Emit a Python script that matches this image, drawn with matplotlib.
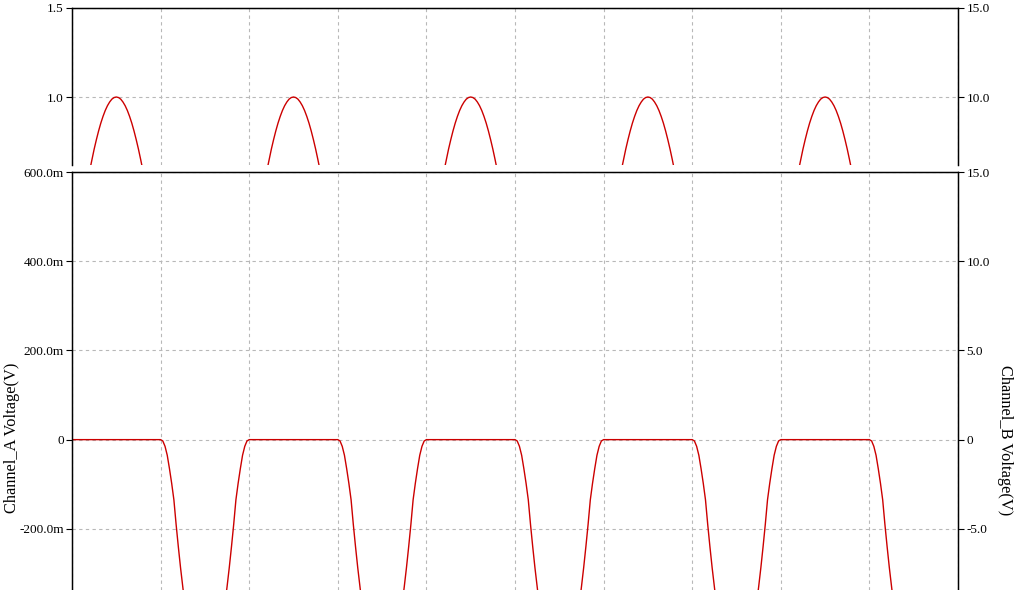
import numpy as np
import matplotlib
matplotlib.use("Agg")
import matplotlib.pyplot as plt

# one period of each trace (time in grid divisions)
cycle_t = [round(0.025 * i, 3) for i in range(80)]
top_cycle = [0.0, 0.079, 0.156, 0.233, 0.309, 0.383, 0.454, 0.523, 0.588, 0.649,
             0.707, 0.760, 0.809, 0.853, 0.891, 0.924, 0.951, 0.972, 0.988, 0.997,
             1.0, 0.997, 0.988, 0.972, 0.951, 0.924, 0.891, 0.853, 0.809, 0.760,
             0.707, 0.649, 0.588, 0.523, 0.454, 0.383, 0.309, 0.233, 0.156, 0.079,
             0.0, -0.079, -0.156, -0.233, -0.309, -0.383, -0.454, -0.523, -0.588, -0.649,
             -0.707, -0.760, -0.809, -0.853, -0.891, -0.924, -0.951, -0.972, -0.988, -0.997,
             -1.0, -0.997, -0.988, -0.972, -0.951, -0.924, -0.891, -0.853, -0.809, -0.760,
             -0.707, -0.649, -0.588, -0.523, -0.454, -0.383, -0.309, -0.233, -0.156, -0.079]
bottom_cycle = [0.0, 0.0, 0.0, 0.0, 0.0, 0.0, 0.0, 0.0, 0.0, 0.0,
                0.0, 0.0, 0.0, 0.0, 0.0, 0.0, 0.0, 0.0, 0.0, 0.0,
                0.0, 0.0, 0.0, 0.0, 0.0, 0.0, 0.0, 0.0, 0.0, 0.0,
                0.0, 0.0, 0.0, 0.0, 0.0, 0.0, 0.0, 0.0, 0.0, 0.0,
                0.0, -0.003, -0.015, -0.035, -0.065, -0.098, -0.135, -0.19, -0.24, -0.287,
                -0.33, -0.37, -0.405, -0.44, -0.47, -0.495, -0.515, -0.53, -0.54, -0.548,
                -0.55, -0.548, -0.54, -0.53, -0.515, -0.495, -0.47, -0.44, -0.405, -0.37,
                -0.33, -0.287, -0.24, -0.19, -0.135, -0.098, -0.065, -0.035, -0.015, -0.003]
n_cycles = 5
period = 2.0
bottom_end = 9.5  # last dip runs off the bottom, no return visible

top_ticks = [1.0, 1.5]
top_labels = ["1.0", "1.5"]
top_right_labels = ["10.0", "15.0"]
bot_ticks = [-0.2, 0.0, 0.2, 0.4, 0.6]
bot_labels = ["-200.0m", "0", "200.0m", "400.0m", "600.0m"]
bot_right_labels = ["-5.0", "0", "5.0", "10.0", "15.0"]

t = np.concatenate([np.array(cycle_t) + k * period for k in range(n_cycles)])
top_v = np.concatenate([top_cycle] * n_cycles)
bot_v = np.concatenate([bottom_cycle] * n_cycles)
keep = t <= bottom_end

plt.rcParams['font.family'] = ['Liberation Serif', 'DejaVu Serif']
plt.rcParams['font.size'] = 9.5

W, H = 1014, 590
fig = plt.figure(figsize=(W / 100, H / 100), dpi=100)
left = 72 / W
width = (958 - 72) / W

ax_top = fig.add_axes([left, (H - 165) / H, width, (165 - 8) / H])
ax_bot = fig.add_axes([left, 0.0, width, (H - 172) / H])

line_color = '#cc0000'
grid_kw = dict(color='#b8b8b8', linestyle=(0, (3, 3)), linewidth=0.8)

ax_top.plot(t, top_v, color=line_color, linewidth=1.0)
ax_top.set_ylim(0.618, 1.5)
ax_bot.plot(t[keep], bot_v[keep], color=line_color, linewidth=1.0)
ax_bot.set_ylim(-0.3371, 0.6)

for ax, ticks, labels, rlabels, k in [(ax_top, top_ticks, top_labels, top_right_labels, 10),
                                      (ax_bot, bot_ticks, bot_labels, bot_right_labels, 25)]:
    ax.set_xlim(0, 10)
    ax.set_xticks(np.arange(0, 11, 1))
    ax.tick_params(axis='x', length=0, labelbottom=False)
    ax.set_yticks(ticks)
    ax.set_yticklabels(labels)
    ax.tick_params(axis='y', direction='out', length=4, width=0.8, pad=2)
    ax.grid(True, **grid_kw)
    ax.spines['bottom'].set_visible(False)
    for s in ['left', 'right', 'top']:
        ax.spines[s].set_linewidth(1.0)
    ylo, yhi = ax.get_ylim()
    # right axis is the same grid scaled for Channel_B
    axr = ax.twinx()
    axr.set_ylim(ylo * k, yhi * k)
    axr.set_yticks([v * k for v in ticks])
    axr.set_yticklabels(rlabels)
    axr.tick_params(axis='y', direction='out', length=4, width=0.8, pad=2)
    axr.spines['bottom'].set_visible(False)

fig.text(12 / W, 1 - 438 / H, "Channel_A Voltage(V)", rotation=90, ha='center', va='center', fontsize=11.8)
fig.text(1005 / W, 1 - 440 / H, "Channel_B Voltage(V)", rotation=-90, ha='center', va='center', fontsize=11.8)

fig.savefig("out.png", dpi=100)
